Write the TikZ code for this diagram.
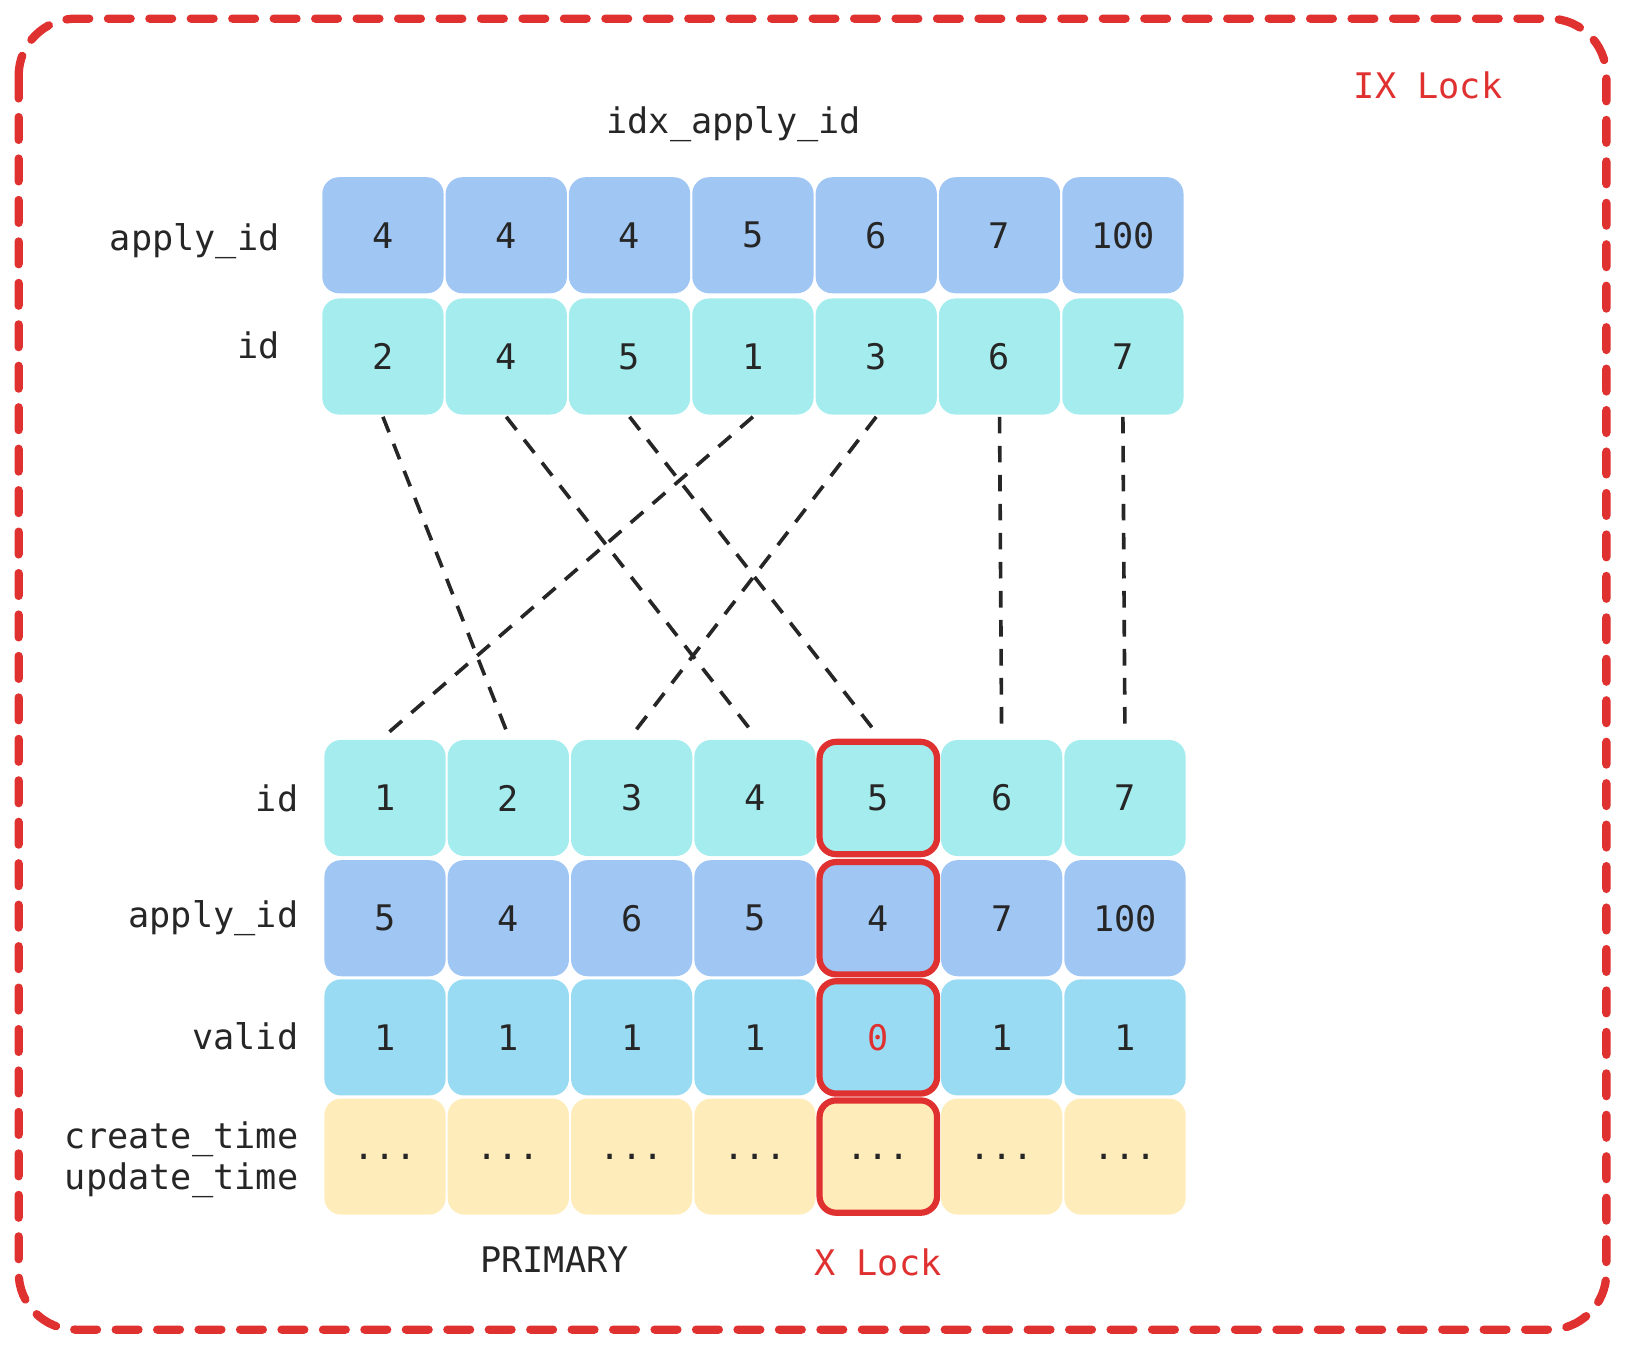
\documentclass[tikz,border=0pt]{standalone}
\usepackage{fontspec}
\setmonofont{DejaVu Sans Mono}
\begin{document}
\begin{tikzpicture}[x=1pt,y=-1pt,
  cell/.style={rounded corners=16pt,minimum width=117pt,minimum height=112pt,inner sep=0pt,draw=none,font=\ttfamily\fontsize{34}{38}\selectfont,text=black!85},
  blue/.style={cell,fill={rgb,255:red,160;green,198;blue,244}},
  cyan/.style={cell,fill={rgb,255:red,165;green,236;blue,238}},
  sky/.style={cell,fill={rgb,255:red,153;green,219;blue,243}},
  yel/.style={cell,fill={rgb,255:red,255;green,236;blue,187}},
  lbl/.style={font=\ttfamily\fontsize{34}{40}\selectfont,text=black!85,inner sep=0pt},
  redt/.style={lbl,text={rgb,255:red,224;green,49;blue,49}},
  link/.style={draw=black!85,line width=3.5pt,dash pattern=on 16pt off 12pt},
  xbox/.style={draw={rgb,255:red,224;green,49;blue,49},line width=6pt,rounded corners=16pt}]
\useasboundingbox (0,0) rectangle (1568,1302.6);
\draw[draw={rgb,255:red,224;green,49;blue,49},line width=8pt,dash pattern=on 22pt off 18pt,line cap=round,rounded corners=55pt] (18,18) rectangle (1550,1283);
\node[redt] (ix) at (1378,82) {IX Lock};
\node[lbl] (idx) at (708,120) {idx\_apply\_id};
\node[lbl,anchor=east] (la) at (270,233) {apply\_id};
\node[lbl,anchor=east] (li) at (270,333) {id};
\foreach \v [count=\i from 0] in {4,4,4,5,6,7,100}
  \node[blue] (ta\i) at (369.5+119*\i,227) {\v};
\foreach \v [count=\i from 0] in {2,4,5,1,3,6,7}
  \node[cyan] (ti\i) at (369.5+119*\i,344) {\v};
\foreach \v [count=\i from 0] in {1,2,3,4,5,6,7}
  \node[cyan] (bi\i) at (371.5+119*\i,770) {\v};
\foreach \v [count=\i from 0] in {5,4,6,5,4,7,100}
  \node[blue] (ba\i) at (371.5+119*\i,886) {\v};
\foreach \v [count=\i from 0] in {1,1,1,1,{\textcolor[RGB]{224,49,49}{0}},1,1}
  \node[sky] (bv\i) at (371.5+119*\i,1001) {\v};
\foreach \i in {0,...,6}
  \node[yel] (bt\i) at (371.5+119*\i,1116) {...};
\node[lbl,anchor=east] (lbi) at (288,770) {id};
\node[lbl,anchor=east] (lba) at (288,886) {apply\_id};
\node[lbl,anchor=east] (lbv) at (288,1000) {valid};
\node[lbl,anchor=east,align=right] (lbt) at (288,1119) {create\_time\\update\_time};
\foreach \a/\b in {0/1,1/3,2/4,3/0,4/2,5/5,6/6}
  \draw[link] ([yshift=-2pt]ti\a.south) -- ([yshift=4pt]bi\b.north);
\foreach \n in {bi4,ba4,bv4,bt4}
  \draw[xbox] ([shift={(2pt,2pt)}]\n.south west) rectangle ([shift={(-2pt,-2pt)}]\n.north east);
\node[lbl] (prim) at (535,1215) {PRIMARY};
\node[redt] (xl) at (847,1218) {X Lock};
\end{tikzpicture}
\end{document}
